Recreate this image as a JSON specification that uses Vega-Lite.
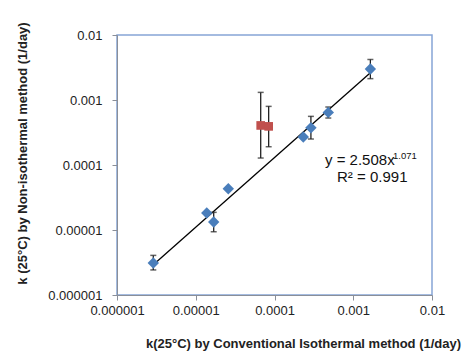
{
  "$schema": "https://vega.github.io/schema/vega-lite/v6.json",
  "width": 315,
  "height": 260,
  "autosize": {"type": "none"},
  "padding": {"left": 117, "top": 35, "right": 42, "bottom": 66},
  "background": "white",
  "config": {
    "font": "Liberation Sans",
    "view": {"stroke": "#86a5d6", "strokeWidth": 1.5},
    "axis": {"grid": false, "labelFlush": false, "labelOverlap": false, "domainColor": "#8a8f99", "tickColor": "#8a8f99", "labelColor": "#222", "titleColor": "#222", "labelFontSize": 13, "titleFontSize": 13, "titleFontWeight": "bold", "labelFont": "Liberation Sans", "titleFont": "Liberation Sans"}
  },
  "datasets": {
    "pts": [
      {"series": "A", "x": 2.89e-6, "y": 3.1e-6, "lo": 2.43e-6, "hi": 4.07e-6},
      {"series": "A", "x": 1.38e-5, "y": 1.83e-5, "lo": null, "hi": null},
      {"series": "A", "x": 1.69e-5, "y": 1.33e-5, "lo": 9.4e-6, "hi": 1.87e-5},
      {"series": "A", "x": 2.59e-5, "y": 4.31e-5, "lo": null, "hi": null},
      {"series": "A", "x": 2.32e-4, "y": 2.70e-4, "lo": null, "hi": null},
      {"series": "A", "x": 2.90e-4, "y": 3.75e-4, "lo": 2.51e-4, "hi": 5.6e-4},
      {"series": "A", "x": 4.82e-4, "y": 6.44e-4, "lo": 5.28e-4, "hi": 7.8e-4},
      {"series": "A", "x": 1.65e-3, "y": 3.0e-3, "lo": 2.13e-3, "hi": 4.2e-3},
      {"series": "B", "x": 6.68e-5, "y": 4.06e-4, "lo": 1.28e-4, "hi": 1.31e-3},
      {"series": "B", "x": 8.43e-5, "y": 3.93e-4, "lo": 1.91e-4, "hi": 7.98e-4}
    ],
    "trend": [
      {"x": 2.89e-6, "y": 2.93e-6},
      {"x": 1.65e-3, "y": 2.62e-3}
    ],
    "notes": [
      {"x": 4.38e-4, "y": 1.19e-4, "label": "y = 2.508x", "kind": "main"},
      {"x": 3.2e-3, "y": 1.40e-4, "label": "1.071", "kind": "sup"},
      {"x": 6.22e-4, "y": 6.65e-5, "label": "R² = 0.991", "kind": "main"}
    ]
  },
  "layer": [
    {
      "data": {"name": "trend"},
      "mark": {"type": "line", "color": "black", "strokeWidth": 1.3},
      "encoding": {
        "x": {"field": "x", "type": "quantitative", "scale": {"type": "log", "domain": [1e-6, 0.01], "nice": false},
          "axis": {"values": [1e-6, 1e-5, 1e-4, 1e-3, 1e-2], "format": ".6~f", "tickSize": 5, "labelPadding": 4, "title": "k(25°C) by Conventional Isothermal method (1/day)", "titleX": 186, "titleY": 48, "titleBaseline": "middle", "titleAnchor": "middle"}},
        "y": {"field": "y", "type": "quantitative", "scale": {"type": "log", "domain": [1e-6, 0.01], "nice": false},
          "axis": {"values": [1e-6, 1e-5, 1e-4, 1e-3, 1e-2], "format": ".6~f", "tickSize": 5, "labelPadding": 10, "title": "k (25°C) by Non-isothermal method (1/day)", "titleX": -95, "titleY": 118, "titleBaseline": "middle", "titleAnchor": "middle", "titleAngle": -90}}
      }
    },
    {
      "data": {"name": "pts"},
      "transform": [{"filter": "datum.lo != null"}],
      "mark": {"type": "rule", "color": "#222", "strokeWidth": 1.3},
      "encoding": {
        "x": {"field": "x", "type": "quantitative"},
        "y": {"field": "lo", "type": "quantitative"},
        "y2": {"field": "hi"}
      }
    },
    {
      "data": {"name": "pts"},
      "transform": [{"filter": "datum.lo != null"}],
      "mark": {"type": "tick", "orient": "horizontal", "color": "#222", "size": 6, "thickness": 1.5},
      "encoding": {
        "x": {"field": "x", "type": "quantitative"},
        "y": {"field": "lo", "type": "quantitative"}
      }
    },
    {
      "data": {"name": "pts"},
      "transform": [{"filter": "datum.lo != null"}],
      "mark": {"type": "tick", "orient": "horizontal", "color": "#222", "size": 6, "thickness": 1.5},
      "encoding": {
        "x": {"field": "x", "type": "quantitative"},
        "y": {"field": "hi", "type": "quantitative"}
      }
    },
    {
      "data": {"name": "pts"},
      "mark": {"type": "point", "filled": true, "opacity": 1},
      "encoding": {
        "x": {"field": "x", "type": "quantitative"},
        "y": {"field": "y", "type": "quantitative"},
        "shape": {"field": "series", "type": "nominal", "scale": {"domain": ["A", "B"], "range": ["diamond", "square"]}, "legend": null},
        "color": {"field": "series", "type": "nominal", "scale": {"domain": ["A", "B"], "range": ["#4a7ebb", "#c0504d"]}, "legend": null},
        "size": {"field": "series", "type": "nominal", "scale": {"domain": ["A", "B"], "range": [130, 75]}, "legend": null}
      }
    },
    {
      "data": {"name": "notes"},
      "transform": [{"filter": "datum.kind == 'main'"}],
      "mark": {"type": "text", "align": "left", "baseline": "middle", "color": "#111", "fontSize": 15},
      "encoding": {
        "x": {"field": "x", "type": "quantitative"},
        "y": {"field": "y", "type": "quantitative"},
        "text": {"field": "label"}
      }
    },
    {
      "data": {"name": "notes"},
      "transform": [{"filter": "datum.kind == 'sup'"}],
      "mark": {"type": "text", "align": "left", "baseline": "middle", "color": "#111", "fontSize": 9.5},
      "encoding": {
        "x": {"field": "x", "type": "quantitative"},
        "y": {"field": "y", "type": "quantitative"},
        "text": {"field": "label"}
      }
    }
  ]
}
